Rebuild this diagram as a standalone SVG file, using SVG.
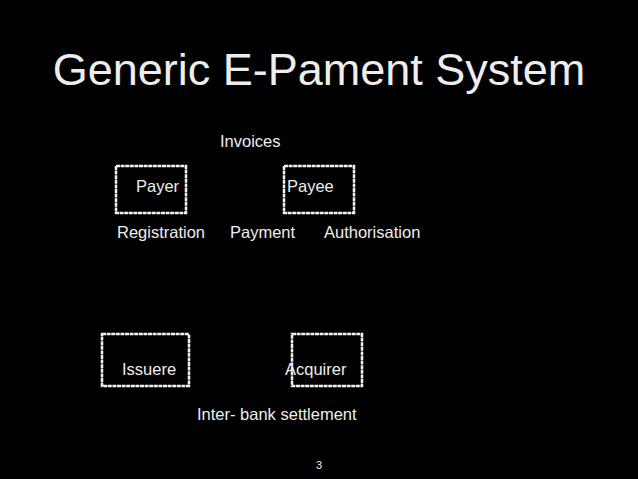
<svg xmlns="http://www.w3.org/2000/svg" width="638" height="479" viewBox="0 0 638 479">
<style>
.b{fill:none;stroke:#f2f2f2;stroke-width:2.5;stroke-dasharray:4 0.6}
text{fill:#ededed;font-family:"Helvetica Neue","Liberation Sans",Arial,sans-serif}
.l{font-size:16.5px}
</style>
<rect width="638" height="479" fill="#000"/>
<text x="319" y="85" font-size="45" text-anchor="middle">Generic E-Pament System</text>
<text class="l" x="220" y="147">Invoices</text>
<g id="payer"><rect class="b" x="116" y="166" width="70" height="47"/><text class="l" x="136" y="192">Payer</text></g>
<g id="payee"><rect class="b" x="284" y="166" width="70" height="47"/><text class="l" x="287" y="192">Payee</text></g>
<text class="l" x="117" y="238">Registration</text>
<text class="l" x="230" y="238">Payment</text>
<text class="l" x="324" y="238">Authorisation</text>
<g id="issuere"><rect class="b" x="102" y="334" width="87" height="52"/><text class="l" x="122" y="375">Issuere</text></g>
<g id="acquirer"><rect class="b" x="292" y="334" width="70" height="52"/><text class="l" x="285" y="375">Acquirer</text></g>
<g id="connectors"></g>
<text class="l" x="197" y="420">Inter- bank settlement</text>
<text x="319" y="469" font-size="11" text-anchor="middle">3</text>
</svg>
